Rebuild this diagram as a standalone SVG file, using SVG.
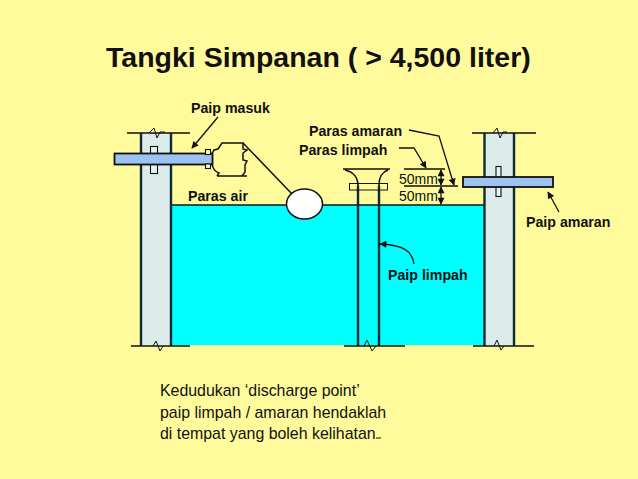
<svg xmlns="http://www.w3.org/2000/svg" width="638" height="479" viewBox="0 0 638 479">
<defs>
<marker id="a" viewBox="0 0 10 10" refX="9" refY="5" markerWidth="8" markerHeight="7" markerUnits="userSpaceOnUse" orient="auto-start-reverse"><path d="M0 0L10 5L0 10Z" fill="#111"/></marker>
</defs>
<style>
.l{fill:none;stroke:#111;stroke-width:1.3}
.h{fill:none;stroke:#0d2b36;stroke-width:2.4}
.w{fill:#dcecea;stroke:none}
.p{fill:#9dc3f2;stroke:#111;stroke-width:1.8}
.s{fill:#fffb9c;stroke:#111;stroke-width:1.1}
.e{fill:#e6f3f1;stroke:#111;stroke-width:1.1}
.z{fill:none;stroke:#111;stroke-width:1}
text{font-family:"Liberation Sans",Arial,sans-serif;fill:#111}
.b{font-size:14.200px;font-weight:bold}
.n{font-size:14px}
.t{font-size:15.900px}
</style>
<rect width="638" height="479" fill="#fffb9c"/>
<g id="title"><text x="106" y="67" style="font-size:28.500px;font-weight:bold">Tangki Simpanan ( &gt; 4,500 liter)</text></g>
<g id="water"><rect x="171" y="205" width="314" height="140" fill="#00ffff"/><path class="l" d="M171 205H486" style="stroke-width:1.6"/></g>
<g id="left-wall">
<rect class="w" x="141" y="133" width="30" height="212"/>
<path class="h" d="M141 133V346M171 133V346"/>
<path class="l" d="M127 133H190M131 346H190"/>
<path class="z" d="M149 133L154 128L157 138L160 132H165M153 346L156 341L160 351L163 346"/>
<rect class="e" x="150.500" y="146.500" width="7" height="27"/>
</g>
<g id="right-wall">
<rect class="w" x="485" y="133" width="29" height="212"/>
<path class="h" d="M484.500 133V346M514 133V346"/>
<path class="l" d="M472 133H536M473 346H534"/>
<path class="z" d="M493 133L497 128L500 138L503 132H507M494 346L497 340L501 350L504 346"/>
<rect class="e" x="496" y="166.500" width="5" height="30"/>
</g>
<g id="inlet-pipe">
<rect class="p" x="114.500" y="153.500" width="98" height="11"/>
<rect class="s" x="205.500" y="149.500" width="5" height="5"/><rect class="s" x="205.500" y="164" width="5" height="4.500"/>
</g>
<g id="valve">
<path d="M212 153.500L214 150L218 149L222 143H243L243 149L247 150L243 153V160L247 161L245 165V172L242 176H247M217 176H242M212 164C213 170 216 172 219 173L217 176" class="l" style="stroke-width:1.500"/>
<path class="l" d="M243 143L292 194" style="stroke-width:1.500"/>
</g>
<g id="float"><ellipse cx="304.500" cy="204" rx="18" ry="15" fill="#fff" stroke="#111" stroke-width="1.500"/></g>
<g id="overflow-pipe">
<path class="h" d="M358 186V346M379 186V346"/>
<path d="M343 169H390M345 170C353 172 358 176 358 186M388 170C382 172 379 176 379 186" fill="none" stroke="#111" stroke-width="1.700"/>
<rect fill="none" stroke="#111" stroke-width="1" x="349.500" y="183.500" width="38" height="6.500"/>
<path class="l" d="M344 346H405"/>
<path class="z" d="M364 346L367 340L372 351L376 346"/>
</g>
<g id="warning-pipe">
<rect class="p" x="463" y="177" width="90" height="10"/>
</g>
<g id="connectors">
<path class="l" d="M218 117L192 148" marker-end="url(#a)"/>
<path class="l" d="M409 130L439 136L454 185" marker-end="url(#a)"/>
<path class="l" d="M399 148L414 148L426 168" marker-end="url(#a)"/>
<path class="l" d="M404 169H445M404 186H458"/>
<path class="l" d="M441 170V185" marker-start="url(#a)" marker-end="url(#a)"/>
<path class="l" d="M441 187V204" marker-start="url(#a)" marker-end="url(#a)"/>
<path class="l" d="M559 212L548 192" marker-end="url(#a)"/>
<path class="l" d="M414 264C412 250 402 245 380 244" marker-end="url(#a)"/>
</g>
<g id="labels">
<text class="b" x="191" y="113">Paip masuk</text>
<text class="b" x="309" y="136">Paras amaran</text>
<text class="b" x="299" y="155">Paras limpah</text>
<text class="b" x="188" y="201">Paras air</text>
<text class="n" x="399" y="184">50mm</text>
<text class="n" x="399" y="201">50mm</text>
<text class="b" x="526" y="227">Paip amaran</text>
<text class="b" x="388" y="280">Paip limpah</text>
<text class="t" x="160" y="396">Kedudukan ‘discharge point’</text>
<text class="t" x="160" y="418">paip limpah / amaran hendaklah</text>
<text class="t" x="160" y="439">di tempat yang boleh kelihatan</text>
<path class="z" d="M376 438H381"/>
</g>
</svg>
